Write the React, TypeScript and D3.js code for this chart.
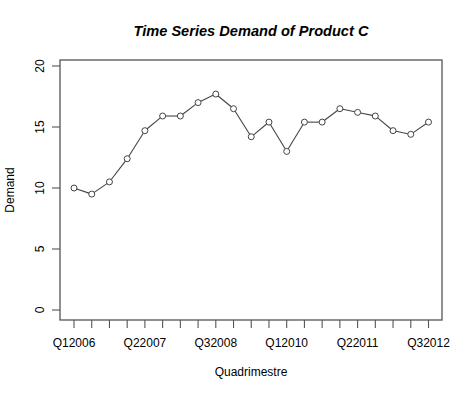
import * as d3 from "d3"
import React, { useEffect, useRef } from "react"

// quadrimesters, 3 per year
const periods = [
    "Q12006", "Q22006", "Q32006",
    "Q12007", "Q22007", "Q32007",
    "Q12008", "Q22008", "Q32008",
    "Q12009", "Q22009", "Q32009",
    "Q12010", "Q22010", "Q32010",
    "Q12011", "Q22011", "Q32011",
    "Q12012", "Q22012", "Q32012"
]

const demand = [
    10.0, 9.5, 10.5,
    12.4, 14.7, 15.9,
    15.9, 17.0, 17.7,
    16.5, 14.2, 15.4,
    13.0, 15.4, 15.4,
    16.5, 16.2, 15.9,
    14.7, 14.4, 15.4
]

const yTicks = [0, 5, 10, 15, 20]
const labelEvery = 4

const LineChart = () => {
    const svgRef = useRef(null)

    useEffect(() => {
        const width = 474
        const height = 395
        const box = { left: 60, right: 442, top: 60, bottom: 320 }
        const axisColor = "#555"
        const font = "'Liberation Sans', Arial, Helvetica, sans-serif"

        const svg = d3.select(svgRef.current)
            .attr("width", width)
            .attr("height", height)
            .style("background", "#fff")

        svg.selectAll("*").remove()

        const x = d3.scalePoint()
            .domain(periods)
            .range([74, 428.5])

        const y = d3.scaleLinear()
            .domain([0, 20])
            .range([310, 66])

        // plot box
        svg.append("rect")
            .attr("x", box.left)
            .attr("y", box.top)
            .attr("width", box.right - box.left)
            .attr("height", box.bottom - box.top)
            .attr("fill", "none")
            .attr("stroke", axisColor)
            .attr("stroke-width", 1.3)

        // x axis ticks
        const xa = svg.append("g")
        xa.selectAll("line")
            .data(periods)
            .join("line")
            .attr("x1", (d) => x(d))
            .attr("x2", (d) => x(d))
            .attr("y1", box.bottom)
            .attr("y2", box.bottom + 8)
            .attr("stroke", axisColor)
            .attr("stroke-width", 1.1)
        xa.selectAll("text")
            .data(periods.filter((d, i) => i % labelEvery === 0))
            .join("text")
            .attr("x", (d) => x(d))
            .attr("y", 347)
            .attr("text-anchor", "middle")
            .attr("font-family", font)
            .attr("font-size", 12)
            .attr("fill", "#000")
            .text((d) => d)

        // y axis ticks
        const ya = svg.append("g")
        ya.selectAll("line")
            .data(yTicks)
            .join("line")
            .attr("x1", box.left - 8)
            .attr("x2", box.left)
            .attr("y1", (d) => y(d))
            .attr("y2", (d) => y(d))
            .attr("stroke", axisColor)
            .attr("stroke-width", 1.1)
        ya.selectAll("text")
            .data(yTicks)
            .join("text")
            .attr("transform", (d) => `translate(44, ${y(d)}) rotate(-90)`)
            .attr("text-anchor", "middle")
            .attr("font-family", font)
            .attr("font-size", 12)
            .attr("fill", "#000")
            .text((d) => d)

        // series: segments with gaps around the points (type = "b")
        const r = 3
        const pts = periods.map((p, i) => [x(p), y(demand[i])])
        const segs = d3.pairs(pts)
        svg.append("g")
            .selectAll("line")
            .data(segs)
            .join("line")
            .each(function ([a, b]) {
                const dx = b[0] - a[0]
                const dy = b[1] - a[1]
                const len = Math.hypot(dx, dy)
                const ux = dx / len, uy = dy / len
                d3.select(this)
                    .attr("x1", a[0] + ux * r)
                    .attr("y1", a[1] + uy * r)
                    .attr("x2", b[0] - ux * r)
                    .attr("y2", b[1] - uy * r)
            })
            .attr("stroke", "#444")
            .attr("stroke-width", 1.1)

        svg.append("g")
            .selectAll("circle")
            .data(pts)
            .join("circle")
            .attr("cx", (d) => d[0])
            .attr("cy", (d) => d[1])
            .attr("r", r)
            .attr("fill", "none")
            .attr("stroke", "#444")
            .attr("stroke-width", 1)

        // title and axis labels
        svg.append("text")
            .attr("x", (box.left + box.right) / 2)
            .attr("y", 36)
            .attr("text-anchor", "middle")
            .attr("font-family", font)
            .attr("font-size", 14.6)
            .attr("font-weight", "bold")
            .attr("font-style", "italic")
            .text("Time Series Demand of Product C")

        svg.append("text")
            .attr("x", (box.left + box.right) / 2)
            .attr("y", 376)
            .attr("text-anchor", "middle")
            .attr("font-family", font)
            .attr("font-size", 12)
            .text("Quadrimestre")

        svg.append("text")
            .attr("transform", `translate(14, ${(box.top + box.bottom) / 2}) rotate(-90)`)
            .attr("text-anchor", "middle")
            .attr("font-family", font)
            .attr("font-size", 12)
            .text("Demand")
    }, [])

    return <svg ref={svgRef} style={{ position: "absolute", left: 0, top: 0 }}></svg>
}

export default function App() {
    return <LineChart />
}
